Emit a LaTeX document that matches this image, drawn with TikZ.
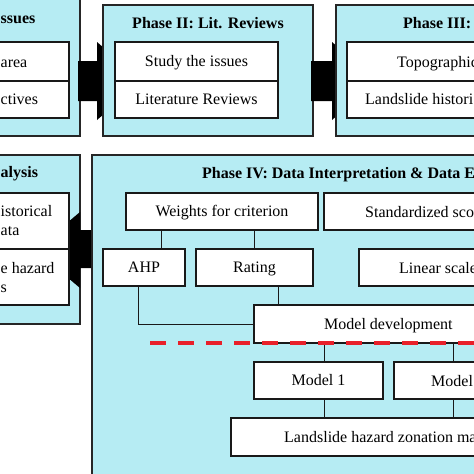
\documentclass[tikz,border=0pt]{standalone}
\usepackage{fontspec}
\setmainfont{Liberation Serif}
\usetikzlibrary{calc}
\definecolor{panelblue}{RGB}{182,236,243}
\definecolor{dashred}{RGB}{232,32,42}
\tikzset{
  panel/.style={draw=black!85, fill=panelblue, line width=1.3pt},
  box/.style={draw=black!90, fill=white, line width=1.2pt, inner sep=0pt,
    font=\fontsize{16}{19}\selectfont, text height=10.6pt, text depth=0pt},
  txt/.style={font=\fontsize{16}{19}\selectfont, inner sep=0pt},
  ttl/.style={font=\fontsize{16}{19}\selectfont\bfseries, inner sep=0pt},
  conn/.style={draw=black!90, line width=1pt},
  blockarrow/.style={fill=black}
}

\begin{document}
\begin{tikzpicture}[x=1pt,y=-1pt]
\useasboundingbox (0,0) rectangle (474,474);
\draw[panel] (-10,-10) rectangle (80,136);
\node[ttl, anchor=base west] (t1) at (0.5,23) {ssues};
\node[box, minimum width=109pt, minimum height=39pt] (b1a) at (14.5,61.5) {};
\node[box, minimum width=109pt, minimum height=37pt] (b1b) at (14.5,99.5) {};
\node[txt, anchor=base west] (s1a) at (0.5,67) {area};
\node[txt, anchor=base west] (s1b) at (0.5,104) {ctives};
\fill[blockarrow] (78,61) -- (97,61) -- (97,42) -- (142,81) -- (97,120) -- (97,101) -- (78,101) -- cycle;

\draw[panel] (103,5) rectangle (313,136);
\node[ttl, anchor=base] (t2) at (208,28) {Phase II: Lit. Reviews};
\node[box, minimum width=163pt, minimum height=39pt] (b2a) at (196.5,61.5) {Study the issues};
\node[box, minimum width=163pt, minimum height=37pt] (b2b) at (196.5,99.5) {Literature Reviews};
\fill[blockarrow] (311,61) -- (332,61) -- (332,42) -- (377,81) -- (332,120) -- (332,101) -- (311,101) -- cycle;

\draw[panel] (336,5) rectangle (490,136);
\node[ttl, anchor=base west] (t3) at (403,28) {Phase III:};
\node[box, minimum width=213pt, minimum height=39pt] (b3a) at (453.5,61.5) {};
\node[box, minimum width=213pt, minimum height=37pt] (b3b) at (453.5,99.5) {};
\node[txt, anchor=base west] (s3a) at (397,67) {Topographic};
\node[txt, anchor=base west] (s3b) at (365,104) {Landslide histori};

\draw[panel] (-10,155) rectangle (80,324);
\node[ttl, anchor=base west] (ta) at (0.5,177) {alysis};
\fill[blockarrow] (94,230) -- (80,230) -- (80,212) -- (35,250) -- (80,288) -- (80,268) -- (94,268) -- cycle;
\node[box, minimum width=109pt, minimum height=56pt] (baa) at (14.5,221) {};
\node[box, minimum width=109pt, minimum height=56pt] (bab) at (14.5,277) {};
\node[txt, anchor=base west] (saa1) at (0.5,216) {istorical};
\node[txt, anchor=base west] (saa2) at (0.5,235) {ata};
\node[txt, anchor=base west] (sab1) at (0.5,273) {e hazard};
\node[txt, anchor=base west] (sab2) at (0.5,292) {s};

\draw[panel] (92,155) rectangle (490,490);
\node[ttl, anchor=base west] (t4) at (202,178) {Phase IV: Data Interpretation \& Data E};
\node[box, minimum width=192pt, minimum height=37pt] (wts) at (222,211.5) {Weights for criterion};
\node[box, minimum width=236pt, minimum height=37pt] (std) at (442,211.5) {};
\node[txt, anchor=base west] (sstd) at (365,217) {Standardized sco};
\node[box, minimum width=82pt, minimum height=37pt] (ahp) at (144,267.5) {AHP};
\node[box, minimum width=117pt, minimum height=37pt] (rat) at (254.5,267.5) {Rating};
\node[box, minimum width=201pt, minimum height=37pt] (lin) at (459.5,267.5) {};
\node[txt, anchor=base west] (slin) at (399,273) {Linear scale};
\node[box, minimum width=306pt, minimum height=38pt] (mdev) at (407,324) {};
\node[txt, anchor=base west] (smdev) at (324,329.5) {Model development};
\node[box, minimum width=129pt, minimum height=37pt] (m1) at (318.5,380.5) {Model 1};
\node[box, minimum width=166pt, minimum height=37pt] (m2) at (477,380.5) {};
\node[txt, anchor=base west] (sm2) at (431,386) {Model};
\node[box, minimum width=329pt, minimum height=38pt] (lhz) at (395.5,437) {};
\node[txt, anchor=base west] (slhz) at (284,442) {Landslide hazard zonation ma};

\draw[conn] ([xshift=17pt]ahp.north) -- ([xshift=17pt]ahp.north |- wts.south);
\draw[conn] (rat.north) -- (rat.north |- wts.south);
\draw[conn] ([xshift=-6pt]ahp.south) |- (mdev.west);
\draw[conn] ([xshift=23.5pt]rat.south) -- ([xshift=23.5pt]rat.south |- mdev.north);
\draw[conn] ([xshift=5.5pt]m1.north) -- ([xshift=5.5pt]m1.north |- mdev.south);
\draw[conn] ([xshift=-24pt]m2.north) -- ([xshift=-24pt]m2.north |- mdev.south);
\draw[conn] ([xshift=5.5pt]m1.south) -- ([xshift=5.5pt]m1.south |- lhz.north);
\draw[conn] ([xshift=-24pt]m2.south) -- ([xshift=-24pt]m2.south |- lhz.north);
\draw[dashred, line width=3.5pt, dash pattern=on 16pt off 12pt] (150,343) -- (490,343);
\end{tikzpicture}
\end{document}
